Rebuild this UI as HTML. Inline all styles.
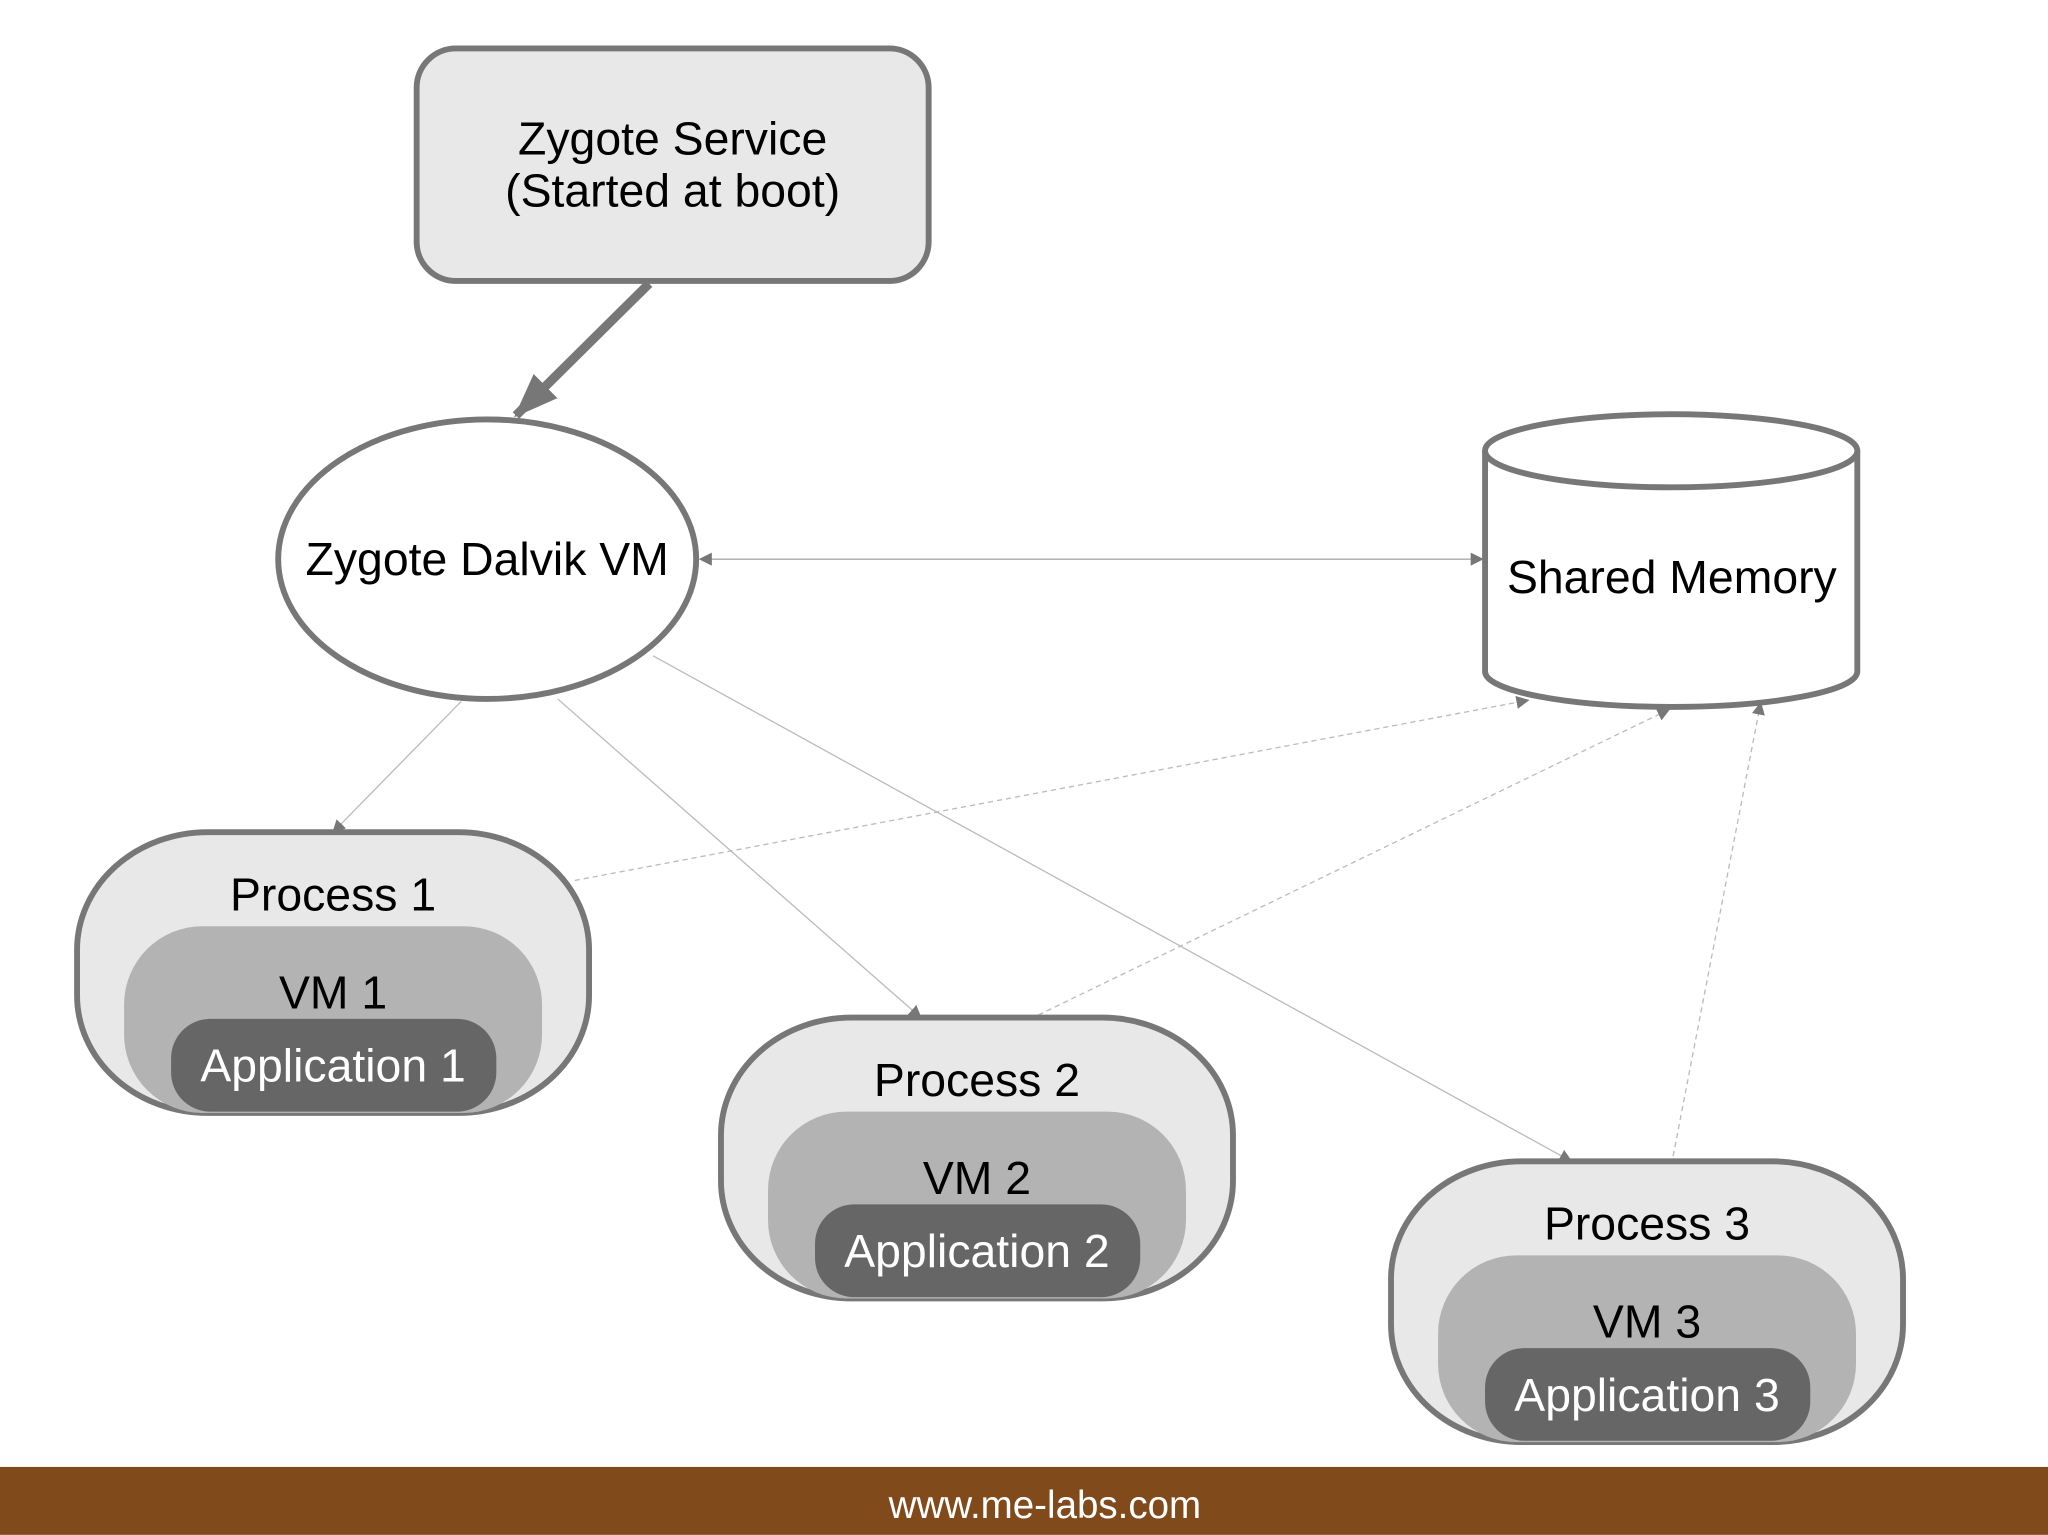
<!DOCTYPE html>
<html><head><meta charset="utf-8"><style>html,body{margin:0;padding:0;background:#fff}svg{display:block}</style></head>
<body>
<svg width="2048" height="1535" viewBox="0 0 1568 1175" xmlns="http://www.w3.org/2000/svg" font-family="Liberation Sans, sans-serif">
<defs>
<marker id="a" markerWidth="10" markerHeight="10" refX="9" refY="5" orient="auto" markerUnits="userSpaceOnUse"><path d="M0,0 L10,5 L0,10 z" fill="#777"/></marker>
<marker id="as" markerWidth="10" markerHeight="10" refX="1" refY="5" orient="auto" markerUnits="userSpaceOnUse"><path d="M10,0 L0,5 L10,10 z" fill="#777"/></marker>
<marker id="b" markerWidth="34" markerHeight="26" refX="32" refY="13" orient="auto" markerUnits="userSpaceOnUse"><path d="M0,0 L34,13 L0,26 z" fill="#777"/></marker>
</defs>
<rect x="319" y="37" width="392" height="178" rx="30" fill="#e8e8e8" stroke="#777" stroke-width="4.5"/>
<text x="515" y="118" font-size="35.5" text-anchor="middle">Zygote Service</text>
<text x="515" y="158" font-size="35.5" text-anchor="middle">(Started at boot)</text>
<line x1="497" y1="217" x2="395" y2="318" stroke="#777" stroke-width="7" marker-end="url(#b)"/>
<ellipse cx="373" cy="428" rx="160" ry="107" fill="#fff" stroke="#777" stroke-width="4.5"/>
<text x="373" y="440" font-size="35.5" text-anchor="middle">Zygote Dalvik VM</text>
<path d="M1137,345 L1137,514 A142,27 0 0 0 1422,514 L1422,345" fill="#fff" stroke="#777" stroke-width="4.5"/>
<ellipse cx="1279.5" cy="345" rx="142.5" ry="28" fill="#fff" stroke="#777" stroke-width="4.5"/>
<text x="1280" y="454" font-size="35.5" text-anchor="middle">Shared Memory</text>
<line x1="536" y1="428" x2="1135" y2="428" stroke="#aaa" stroke-width="1" marker-end="url(#a)" marker-start="url(#as)"/>
<g stroke="#bbb" stroke-width="1" fill="none">
<line x1="353" y1="537" x2="255" y2="637" marker-end="url(#a)"/>
<line x1="427" y1="535" x2="705" y2="779" marker-end="url(#a)"/>
<line x1="500" y1="502" x2="1203" y2="889" marker-end="url(#a)"/>
<g stroke-dasharray="4,3">
<line x1="440" y1="674" x2="1170" y2="536" marker-end="url(#a)"/>
<line x1="795" y1="777" x2="1278" y2="543" marker-end="url(#a)"/>
<line x1="1281" y1="885" x2="1348" y2="538" marker-end="url(#a)"/>
</g>
</g>
<g>
<rect x="59" y="637" width="392" height="215" rx="100" ry="90" fill="#e8e8e8" stroke="#777" stroke-width="4.5"/>
<rect x="95" y="709" width="320" height="143" rx="60" fill="#b3b3b3"/>
<rect x="131" y="780" width="249" height="71" rx="30" fill="#666"/>
<text x="255" y="697" font-size="35.5" text-anchor="middle">Process 1</text>
<text x="255" y="772" font-size="35.5" text-anchor="middle">VM 1</text>
<text x="255" y="828" font-size="35.5" text-anchor="middle" fill="#fff">Application 1</text>
</g>
<g transform="translate(493,142)">
<rect x="59" y="637" width="392" height="215" rx="100" ry="90" fill="#e8e8e8" stroke="#777" stroke-width="4.5"/>
<rect x="95" y="709" width="320" height="143" rx="60" fill="#b3b3b3"/>
<rect x="131" y="780" width="249" height="71" rx="30" fill="#666"/>
<text x="255" y="697" font-size="35.5" text-anchor="middle">Process 2</text>
<text x="255" y="772" font-size="35.5" text-anchor="middle">VM 2</text>
<text x="255" y="828" font-size="35.5" text-anchor="middle" fill="#fff">Application 2</text>
</g>
<g transform="translate(1006,252)">
<rect x="59" y="637" width="392" height="215" rx="100" ry="90" fill="#e8e8e8" stroke="#777" stroke-width="4.5"/>
<rect x="95" y="709" width="320" height="143" rx="60" fill="#b3b3b3"/>
<rect x="131" y="780" width="249" height="71" rx="30" fill="#666"/>
<text x="255" y="697" font-size="35.5" text-anchor="middle">Process 3</text>
<text x="255" y="772" font-size="35.5" text-anchor="middle">VM 3</text>
<text x="255" y="828" font-size="35.5" text-anchor="middle" fill="#fff">Application 3</text>
</g>
<rect x="0" y="1123" width="1568" height="52" fill="#804a1b"/>
<text x="800" y="1162" font-size="29.5" text-anchor="middle" fill="#fff">www.me-labs.com</text>
</svg>
</body></html>
